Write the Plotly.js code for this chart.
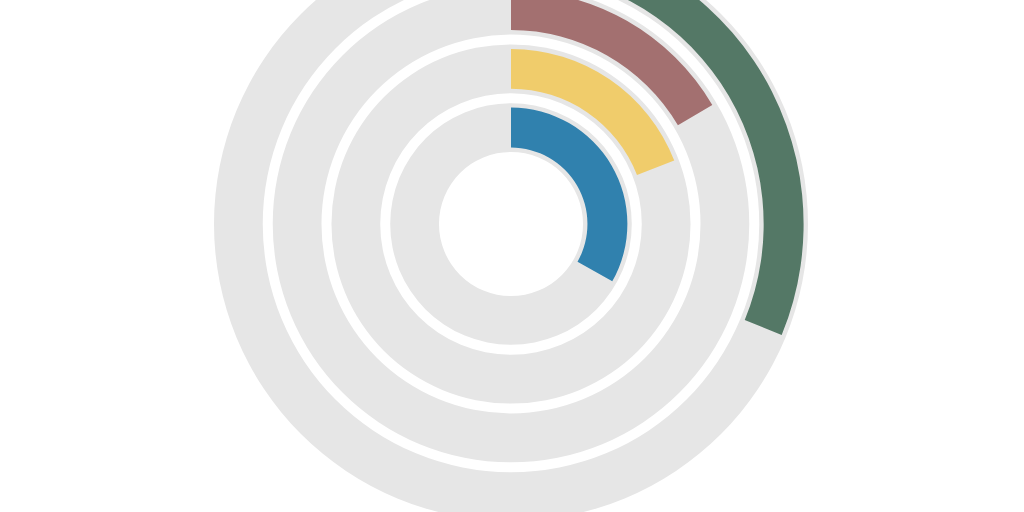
<!DOCTYPE html>
<html>
<head>
<meta charset="utf-8">
<script src="https://cdn.plot.ly/plotly-3.0.1.min.js"></script>
<style>
    html, body { margin: 0; padding: 0; overflow: hidden; background: #fff; width: 1024px; height: 512px; }
    #plot { position: absolute; left: 0; top: -78px; width: 1022px; height: 604px; }
</style>
</head>
<body>
<div id="plot"></div>
<script>
// tracks from the inside out
const tracks = ['A', 'B', 'C', 'D']
const shares = [33.2, 19.1, 16.5, 31.2]   // percent of a full turn
const colors = ['#3081ae', '#f0cc6b', '#a37070', '#547866']
const trackPos = [1, 2, 3, 4]

const trackWidth = 0.83
const barWidth = 0.68

function toDegrees(p) {
    return p * 3.6
}

// grey background rings, one full turn per track
const traceTracks = {
    type: 'barpolar',
    r: trackPos.map(() => trackWidth),
    base: trackPos.map((p) => p - trackWidth / 2),
    theta: trackPos.map(() => 180),
    width: trackPos.map(() => 360),
    marker: { color: '#e6e6e6', line: { width: 0 } },
    hoverinfo: 'skip',
    showlegend: false
}

// coloured bars, starting at 12 o'clock and running clockwise
const traceBars = {
    type: 'barpolar',
    r: trackPos.map(() => barWidth),
    base: trackPos.map((p) => p - barWidth / 2),
    theta: shares.map((s) => toDegrees(s) / 2),
    width: shares.map(toDegrees),
    text: tracks,
    marker: { color: colors, line: { width: 0 } },
    showlegend: false
}

const layout = {
    width: 1022,
    height: 604,
    margin: { l: 0, r: 0, t: 0, b: 0 },
    paper_bgcolor: '#fff',
    showlegend: false,
    barmode: 'overlay',
    polar: {
        domain: { x: [0, 1], y: [0, 1] },
        bgcolor: '#fff',
        hole: 0.222,
        radialaxis: {
            range: [0.5, 4.5],
            visible: false,
            showgrid: false,
            showline: false,
            showticklabels: false,
            ticks: ''
        },
        angularaxis: {
            rotation: 90,
            direction: 'clockwise',
            showgrid: false,
            showline: false,
            showticklabels: false,
            ticks: ''
        }
    }
}

Plotly.newPlot('plot', [traceTracks, traceBars], layout, { displayModeBar: false, staticPlot: true })
</script>
</body>
</html>
